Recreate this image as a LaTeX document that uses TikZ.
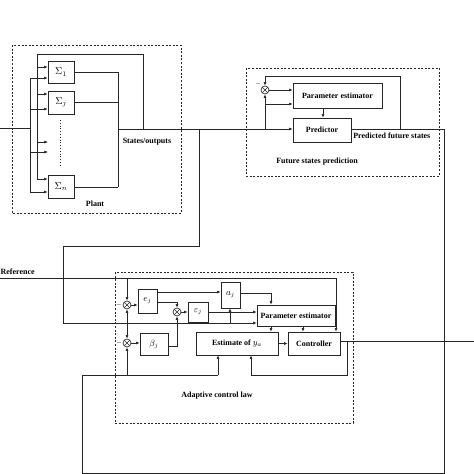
\documentclass[tikz,border=0pt]{standalone}
\usepackage{fontspec}
\setmainfont{Liberation Serif}
\usetikzlibrary{arrows.meta}
\begin{document}
\begin{tikzpicture}[x=1pt,y=-1pt,
  line width=0.65pt, draw=black!85,
  lbl/.style={font=\fontsize{8}{9}\selectfont\bfseries, inner sep=0pt},
  blk/.style={draw, inner sep=0pt, font=\fontsize{8}{9}\selectfont\bfseries},
  mblk/.style={draw, inner sep=0pt, font=\fontsize{10}{11}\selectfont},
  arr/.style={-{Latex[length=3.6pt,width=3pt]}},
  grp/.style={draw, dash pattern=on 2pt off 1.6pt, line width=0.7pt},
  sumn/.style={draw, circle, minimum size=8pt, inner sep=0pt,
    path picture={\draw (path picture bounding box.north west) -- (path picture bounding box.south east)
      (path picture bounding box.south west) -- (path picture bounding box.north east);}},
  minus/.style={font=\fontsize{6}{6}\selectfont, inner sep=0pt}
]
\useasboundingbox (0,0) rectangle (474,474);

% ---------- group frames ----------
\draw[grp] (12,45) rectangle (181,213);
\draw[grp] (246,68) rectangle (439,176);
\draw[grp] (115,272) rectangle (353,423);

% ---------- plant ----------
\node[mblk, minimum width=26pt, minimum height=22pt] (S1) at (61,72) {$\Sigma_1$};
\node[mblk, minimum width=26pt, minimum height=23pt] (Sj) at (61,102.5) {$\Sigma_j$};
\node[mblk, minimum width=26pt, minimum height=23pt] (Sn) at (61,186.5) {$\Sigma_n$};
\coordinate (in) at (0,128);
\coordinate (ia) at (30,128);
\coordinate (d1) at (48,142);
\coordinate (d2) at (48,152);
\draw (in) -- (ia);
\draw (30,78) -- (30,192);
\draw[arr] (30,78) -- (S1.west |- 0,78);
\draw[arr] (30,109) -- (Sj.west |- 0,109);
\draw[arr] (30,152) -- (d2);
\draw[arr] (30,192) -- (Sn.west |- 0,192);
\draw (143,129) -- (143,54) -- (37,54) -- (37,179);
\draw[arr] (37,67) -- (S1.west |- 0,67);
\draw[arr] (37,94) -- (Sj.west |- 0,94);
\draw[arr] (37,142) -- (d1);
\draw[arr] (37,179) -- (Sn.west |- 0,179);
\draw[dotted, line width=0.8pt] (60,120) -- (60,167);
\draw (S1.east |- 0,72) -- (118,72);
\draw (Sj.east |- 0,102) -- (118,102);
\draw (Sn.east |- 0,187) -- (118,187);
\draw (118,72) -- (118,187);
\node[lbl] (so) at (147,142) {States/outputs};
\node[lbl] (pl) at (95,204) {Plant};

% ---------- future states prediction ----------
\node[blk, minimum width=89pt, minimum height=25pt] (PE1) at (337.5,95.5) {Parameter estimator};
\node[blk, minimum width=58pt, minimum height=24pt] (Pred) at (322,130) {Predictor};
\node[sumn] (sp) at (265,90) {};
\node[minus] at (258,84) {$-$};
\draw[arr] (118,129) -- (Pred.west |- 0,129);
\draw[arr] (265,129) -- (sp.south);
\draw[arr] (265,104) -- (PE1.west |- 0,104);
\draw[arr] (sp.east) -- (PE1.west |- sp.east);
\draw[arr] (PE1.south -| 323,0) -- (Pred.north -| 323,0);
\draw (Pred.east |- 0,129) -- (444,129) -- (444,473) -- (82,473) -- (82,375) -- (218,375);
\draw[arr] (400,129) -- (400,76) -- (265,76) -- (sp.north);
\node[lbl, anchor=west] (pfs) at (353,136) {Predicted future states};
\node[lbl] (fsp) at (317,162) {Future states prediction};

% ---------- adaptive control law ----------
\node[mblk, font=\fontsize{9}{10}\selectfont, minimum width=19pt, minimum height=24pt] (ej) at (147.5,301) {$e_j$};
\node[mblk, font=\fontsize{9}{10}\selectfont, minimum width=20pt, minimum height=20pt] (epsj) at (198,312) {$\varepsilon_j$};
\node[mblk, font=\fontsize{9}{10}\selectfont, minimum width=19pt, minimum height=26pt] (aj) at (230.5,295) {$a_j$};
\node[mblk, font=\fontsize{9}{10}\selectfont, minimum width=28pt, minimum height=22pt] (bj) at (154,344) {$\beta_j$};
\node[blk, minimum width=78pt, minimum height=21pt] (PE2) at (296,315.5) {Parameter estimator};
\node[blk, minimum width=82pt, minimum height=23pt] (Est) at (237,343.5) {Estimate of {\fontsize{9}{10}\selectfont$y_a$}};
\node[blk, minimum width=52pt, minimum height=23pt] (Ctrl) at (314,343.5) {Controller};
\node[sumn] (s1) at (127,305) {};
\node[sumn] (s2) at (177,312) {};
\node[sumn] (s3) at (127,343) {};
\node[minus] at (119,305) {$-$};
\node[minus] at (119,343) {$-$};

% reference
\coordinate (ref) at (0,278);
\node[lbl, anchor=east] (reft) at (35,272) {Reference};
\draw[arr] (ref) -- (336,278) -- (Ctrl.north -| 336,0);
\draw[arr] (127,278) -- (s1.north);
% states line
\draw[arr] (199,129) -- (199,246) -- (63,246) -- (63,323) -- (PE2.west |- 0,323);
\draw[arr] (127,323) -- (s1.south);
\draw[arr] (127,323) -- (s3.north);
\draw[arr] (127,375) -- (s3.south);
\draw[arr] (218,375) -- (Est.south -| 218,0);
\draw[arr] (230,323) -- (aj.south -| 230,0);
% sums to blocks
\draw[arr] (s1.east) -- (ej.west |- s1.east);
\draw[arr] (s3.east) -- (bj.west |- s3.east);
\draw[arr] (ej.east |- 0,292) -- (aj.west |- 0,292);
\draw[arr] (ej.east |- 0,302) -- (177,302) -- (s2.north);
\draw[arr] (bj.east |- 0,346) -- (177,346) -- (s2.south);
\draw[arr] (s2.east) -- (epsj.west |- s2.east);
\draw[arr] (epsj.east |- 0,312) -- (PE2.west |- 0,312);
\draw[arr] (aj.east |- 0,293) -- (271,293) -- (PE2.north -| 271,0);
\draw[arr] (PE2.south -| 271,0) -- (Est.north -| 271,0);
\draw[arr] (PE2.south -| 303,0) -- (Ctrl.north -| 303,0);
\draw[arr] (Est.east) -- (Ctrl.west);
\coordinate (out) at (474,341);
\draw (Ctrl.east |- 0,341) -- (out);
\draw[arr] (347,341) -- (347,375) -- (251,375) -- (Est.south -| 251,0);
\node[lbl] (acl) at (217,396) {Adaptive control law};
\end{tikzpicture}
\end{document}
